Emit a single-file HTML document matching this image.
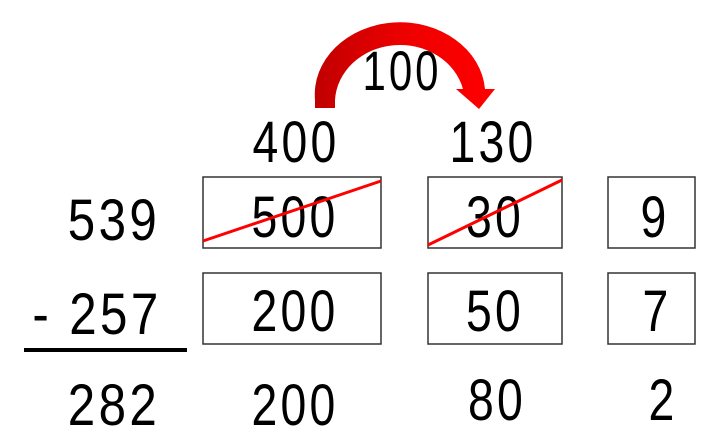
<!DOCTYPE html>
<html><head><style>html,body{margin:0;padding:0;background:#fff;}svg{display:block}</style></head>
<body>
<svg width="712" height="448" viewBox="0 0 712 448" xmlns="http://www.w3.org/2000/svg" font-family="Liberation Sans, sans-serif" fill="#000">
<defs><linearGradient id="g" x1="0" x2="1"><stop offset="0" stop-color="#c00000"/><stop offset="0.5" stop-color="#ee0000"/><stop offset="1" stop-color="#ff0000"/></linearGradient></defs>
<path d="M315,108 L315,100 A85,72 0 0 1 485,89 L495,89 L479,109 L456,89 L463,89 A65,58 0 0 0 335,100 L335,108 Z" fill="url(#g)"/>
<g fill="none" stroke="#333" stroke-width="1.5">
<rect x="203" y="177" width="178" height="71"/>
<rect x="428" y="177" width="134" height="71"/>
<rect x="608" y="177" width="87" height="71"/>
<rect x="203" y="273" width="178" height="71"/>
<rect x="428" y="273" width="134" height="71"/>
<rect x="608" y="273" width="87" height="71"/>
</g>
<g font-size="58" text-anchor="middle" letter-spacing="4">
<text transform="translate(402,90) scale(0.75,1)" font-size="56">100</text>
<text transform="translate(296,162) scale(0.8,1)">400</text>
<text transform="translate(493,162) scale(0.8,1)">130</text>
<text transform="translate(114,240) scale(0.85,1)">539</text>
<text transform="translate(295,237) scale(0.8,1)">500</text>
<text transform="translate(495,237) scale(0.8,1)">30</text>
<text transform="translate(655,237) scale(0.8,1)">9</text>
<text transform="translate(97,334) scale(0.85,1)">- 257</text>
<text transform="translate(295,331) scale(0.8,1)">200</text>
<text transform="translate(495,331) scale(0.8,1)">50</text>
<text transform="translate(657,331) scale(0.8,1)">7</text>
<text transform="translate(114,425) scale(0.85,1)">282</text>
<text transform="translate(295,425) scale(0.8,1)">200</text>
<text transform="translate(497,420) scale(0.8,1)">80</text>
<text transform="translate(663,420) scale(0.8,1)">2</text>
</g>
<line x1="24" y1="350" x2="187" y2="350" stroke="#000" stroke-width="4"/>
<line x1="203" y1="241" x2="381" y2="181" stroke="#f00" stroke-width="3"/>
<line x1="428" y1="245" x2="562" y2="180" stroke="#f00" stroke-width="3"/>
</svg>
</body></html>
